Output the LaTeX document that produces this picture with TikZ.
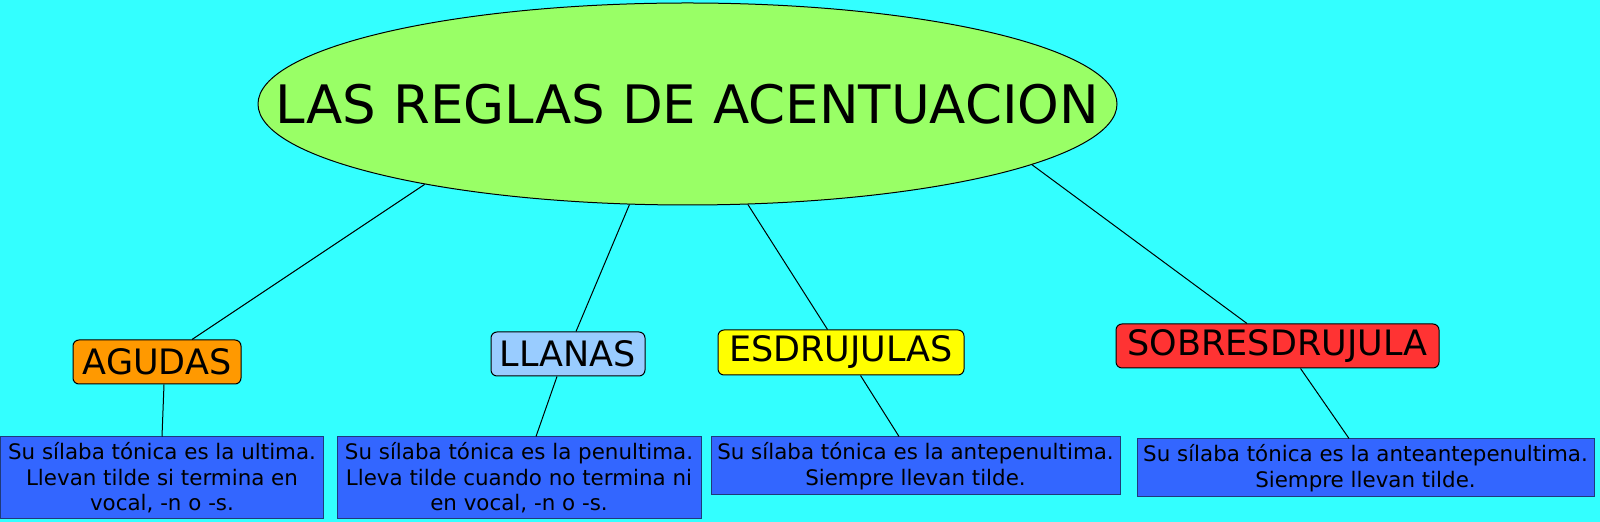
\documentclass[tikz,border=0pt]{standalone}
\usepackage{fontspec}
\setmainfont{DejaVu Sans}
\usetikzlibrary{shapes.geometric}
\definecolor{fondo}{HTML}{33FFFF}
\definecolor{verde}{HTML}{99FF66}
\definecolor{naranja}{HTML}{FF9900}
\definecolor{celeste}{HTML}{99CCFF}
\definecolor{amarillo}{HTML}{FFFF00}
\definecolor{rojo}{HTML}{FF3333}
\definecolor{azul}{HTML}{3366FF}
\definecolor{bordeazul}{HTML}{1F3A7A}

\begin{document}
\begin{tikzpicture}[x=0.5pt,y=-0.5pt,
    titulo/.style={ellipse,draw,fill=verde,line width=0.5pt,inner sep=0pt,minimum width=429.5pt,minimum height=101pt,font=\fontsize{26.5}{30}\selectfont},
    etiqueta/.style={draw,line width=0.5pt,rounded corners=3pt,inner sep=0pt,minimum height=22pt,font=\fontsize{17.5}{20}\selectfont},
    regla/.style={draw=bordeazul,fill=azul,line width=0.5pt,inner sep=0pt,align=center,font=\fontsize{10.7}{12.8}\selectfont}]
  \fill[fondo] (0,0) rectangle (1600,522);
  \useasboundingbox (0,0) rectangle (1600,522);

  \node[titulo] (title) at (687.5,104) {\makebox[0pt]{LAS REGLAS DE ACENTUACION}};

  \node[etiqueta,fill=naranja,minimum width=84pt] (agudas) at (157,362) {AGUDAS};
  \node[etiqueta,fill=celeste,minimum width=77pt] (llanas) at (568,354) {LLANAS};
  \node[etiqueta,fill=amarillo,minimum width=123pt,minimum height=22.5pt] (esdrujulas) at (841,352.5) {ESDRUJULAS};
  \node[etiqueta,fill=rojo,minimum width=161.5pt] (sobres) at (1277.5,346) {SOBRESDRUJULA};

  \node[regla,minimum width=161.5pt,minimum height=41pt] (regla1) at (162,478)
    {Su sílaba tónica es la ultima.\\Llevan tilde si termina en\\vocal, -n o -s.};
  \node[regla,minimum width=182pt,minimum height=41pt] (regla2) at (519,478)
    {Su sílaba tónica es la penultima.\\Lleva tilde cuando no termina ni\\en vocal, -n o -s.};
  \node[regla,minimum width=204.5pt,minimum height=29pt] (regla3) at (915.5,466)
    {Su sílaba tónica es la antepenultima.\\Siempre llevan tilde.};
  \node[regla,minimum width=228.5pt,minimum height=29pt] (regla4) at (1365.5,468)
    {Su sílaba tónica es la anteantepenultima.\\Siempre llevan tilde.};

  \path[line width=0.5pt]
    (title.197.3) edge ([xshift=17.5pt]agudas.north)
    (title.240.3) edge ([xshift=4pt]llanas.north)
    (title.301.3) edge ([xshift=-6.75pt]esdrujulas.north)
    (title.350.9) edge ([xshift=-15.25pt]sobres.north)
    ([xshift=3.5pt]agudas.south) edge (regla1.north)
    ([xshift=-5.5pt]llanas.south) edge ([xshift=8.5pt]regla2.north)
    ([xshift=9.75pt]esdrujulas.south) edge ([xshift=-8.25pt]regla3.north)
    ([xshift=11.5pt]sobres.south) edge ([xshift=-8.25pt]regla4.north);
\end{tikzpicture}
\end{document}
